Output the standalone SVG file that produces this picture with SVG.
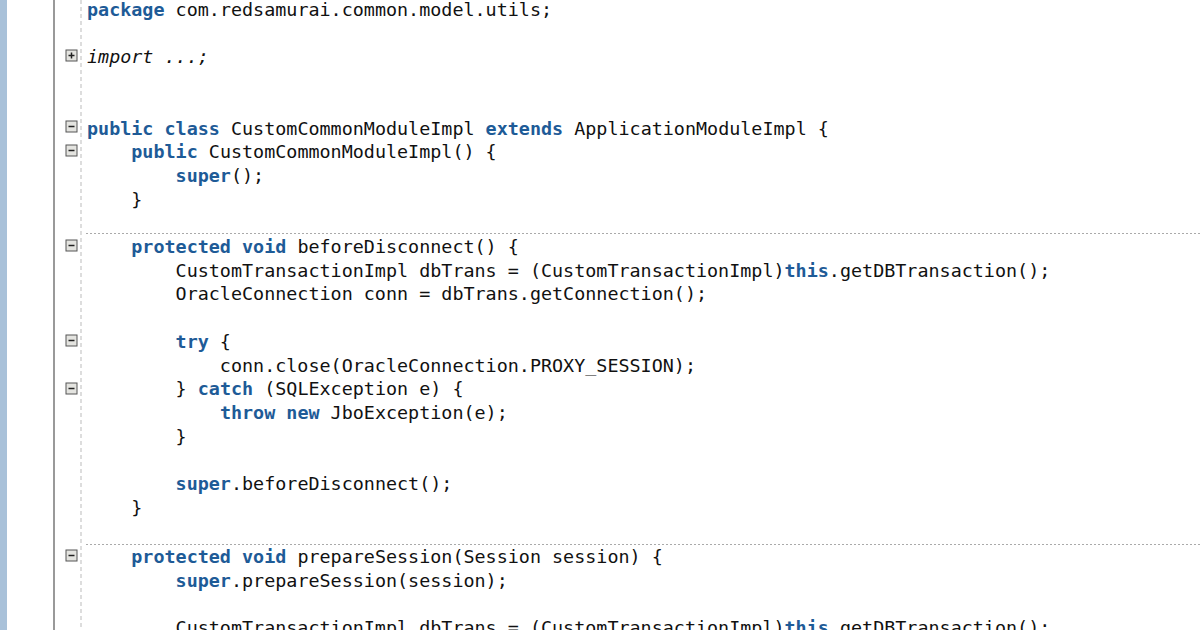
<svg xmlns="http://www.w3.org/2000/svg" width="1200" height="630" viewBox="0 0 1200 630">
<style>
text{font-family:"DejaVu Sans Mono","Liberation Mono",monospace;font-size:18.4px;fill:#111;white-space:pre}
.k{fill:#1e5b97;font-weight:bold}
.i{font-style:italic}
.fold rect{fill:#e4e4e0;stroke:#555;stroke-width:1}
.fold line{stroke:#222;stroke-width:1.5}
</style>
<rect width="1200" height="630" fill="#fff"/>
<rect x="0" y="0" width="7" height="630" fill="#a9c1d9"/>
<line x1="54" y1="0" x2="54" y2="630" stroke="#999" stroke-width="2"/>
<line x1="81" y1="0" x2="81" y2="630" stroke="#bbb" stroke-width="1" stroke-dasharray="4,3"/>
<line x1="86" y1="233.5" x2="1200" y2="233.5" stroke="#aaa" stroke-dasharray="2,2"/>
<line x1="86" y1="544.5" x2="1200" y2="544.5" stroke="#aaa" stroke-dasharray="2,2"/>
<g id="folds" class="fold">
<g transform="translate(66,50)"><rect width="11" height="11"/><line x1="2.5" y1="5.5" x2="8.5" y2="5.5"/><line x1="5.5" y1="2.5" x2="5.5" y2="8.5"/></g>
<g transform="translate(66,121)"><rect width="11" height="11"/><line x1="2.5" y1="5.5" x2="8.5" y2="5.5"/></g>
<g transform="translate(66,145)"><rect width="11" height="11"/><line x1="2.5" y1="5.5" x2="8.5" y2="5.5"/></g>
<g transform="translate(66,240)"><rect width="11" height="11"/><line x1="2.5" y1="5.5" x2="8.5" y2="5.5"/></g>
<g transform="translate(66,335)"><rect width="11" height="11"/><line x1="2.5" y1="5.5" x2="8.5" y2="5.5"/></g>
<g transform="translate(66,383)"><rect width="11" height="11"/><line x1="2.5" y1="5.5" x2="8.5" y2="5.5"/></g>
<g transform="translate(66,550)"><rect width="11" height="11"/><line x1="2.5" y1="5.5" x2="8.5" y2="5.5"/></g>
</g>
<g id="code">
<text x="87" y="16"><tspan class="k">package</tspan> com.redsamurai.common.model.utils;</text>
<text x="87" y="63.4" class="i">import ...;</text>
<text x="87" y="134.5"><tspan class="k">public class</tspan> CustomCommonModuleImpl <tspan class="k">extends</tspan> ApplicationModuleImpl {</text>
<text x="87" y="158.2">    <tspan class="k">public</tspan> CustomCommonModuleImpl() {</text>
<text x="87" y="181.9">        <tspan class="k">super</tspan>();</text>
<text x="87" y="205.6">    }</text>
<text x="87" y="253">    <tspan class="k">protected void</tspan> beforeDisconnect() {</text>
<text x="87" y="276.7">        CustomTransactionImpl dbTrans = (CustomTransactionImpl)<tspan class="k">this</tspan>.getDBTransaction();</text>
<text x="87" y="300.4">        OracleConnection conn = dbTrans.getConnection();</text>
<text x="87" y="347.8">        <tspan class="k">try</tspan> {</text>
<text x="87" y="371.5">            conn.close(OracleConnection.PROXY_SESSION);</text>
<text x="87" y="395.2">        } <tspan class="k">catch</tspan> (SQLException e) {</text>
<text x="87" y="418.9">            <tspan class="k">throw new</tspan> JboException(e);</text>
<text x="87" y="442.6">        }</text>
<text x="87" y="490">        <tspan class="k">super</tspan>.beforeDisconnect();</text>
<text x="87" y="513.7">    }</text>
<text x="87" y="563.1">    <tspan class="k">protected void</tspan> prepareSession(Session session) {</text>
<text x="87" y="586.8">        <tspan class="k">super</tspan>.prepareSession(session);</text>
<text x="87" y="634.2">        CustomTransactionImpl dbTrans = (CustomTransactionImpl)<tspan class="k">this</tspan>.getDBTransaction();</text>
</g>
</svg>
